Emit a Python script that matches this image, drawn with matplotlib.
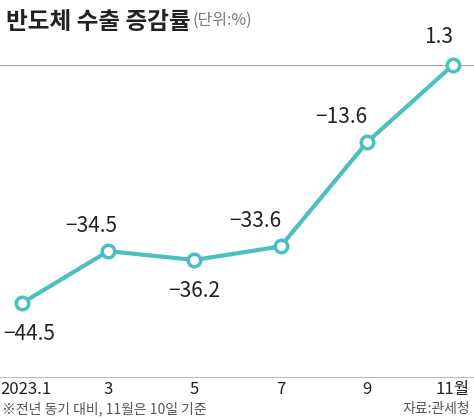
import matplotlib
matplotlib.use("Agg")
import matplotlib.pyplot as plt

plt.rcParams['font.family'] = ['Noto Sans CJK KR', 'DejaVu Sans']

labels = ["2023.1", "3", "5", "7", "9", "11월"]
values = [-44.5, -34.5, -36.2, -33.6, -13.6, 1.3]
value_text = ["−44.5", "−34.5", "−36.2", "−33.6", "−13.6", "1.3"]
offsets = [(5, -22), (-12, 18), (0, -22), (-18, 18), (-18, 18), (-10, 20)]

W, H = 474, 420
fig = plt.figure(figsize=(W/100, H/100), dpi=100)
ax = fig.add_axes([0, (H-378)/H, 1, 313/H])
x = list(range(len(values)))
ax.set_xlim(-22/86.2, 5 + 21/86.2)
ax.set_ylim(-58.9, 1.3)
ax.axis('off')
color = '#4cbfc0'
ax.axhline(1.3, color='#aaaaaa', lw=1)
ax.axhline(-58.9, color='#aaaaaa', lw=1.2)
ax.plot(x, values, color=color, lw=3, marker='o', ms=9, mfc='white',
        mec=color, mew=2.5, clip_on=False, zorder=3)
for xi, v, t, (dx, dy) in zip(x, values, value_text, offsets):
    ax.annotate(t, (xi, v), xytext=(dx, dy), textcoords='offset points',
                ha='center', va='center', fontsize=15, fontweight='medium',
                color='#222222')
for i, (xi, l) in enumerate(zip(x, labels)):
    ax.annotate(l, (xi, -58.9), xytext=(3 if i == 0 else 0, -8),
                textcoords='offset points',
                ha='center', va='center', fontsize=12, color='#222222')

fig.text(6/W, 1-22/H, "반도체 수출 증감률", fontsize=17, fontweight='bold',
         color='#222222', va='center', ha='left')
fig.text(192/W, 1-20/H, "(단위:%)", fontsize=11.5, color='#777777',
         va='center', ha='left')
fig.text(2/W, 1-409/H, "※전년 동기 대비, 11월은 10일 기준", fontsize=10,
         color='#555555', va='center', ha='left')
fig.text(470/W, 1-409/H, "자료:관세청", fontsize=10,
         color='#555555', va='center', ha='right')
fig.savefig("out.png", dpi=100, facecolor='white')
